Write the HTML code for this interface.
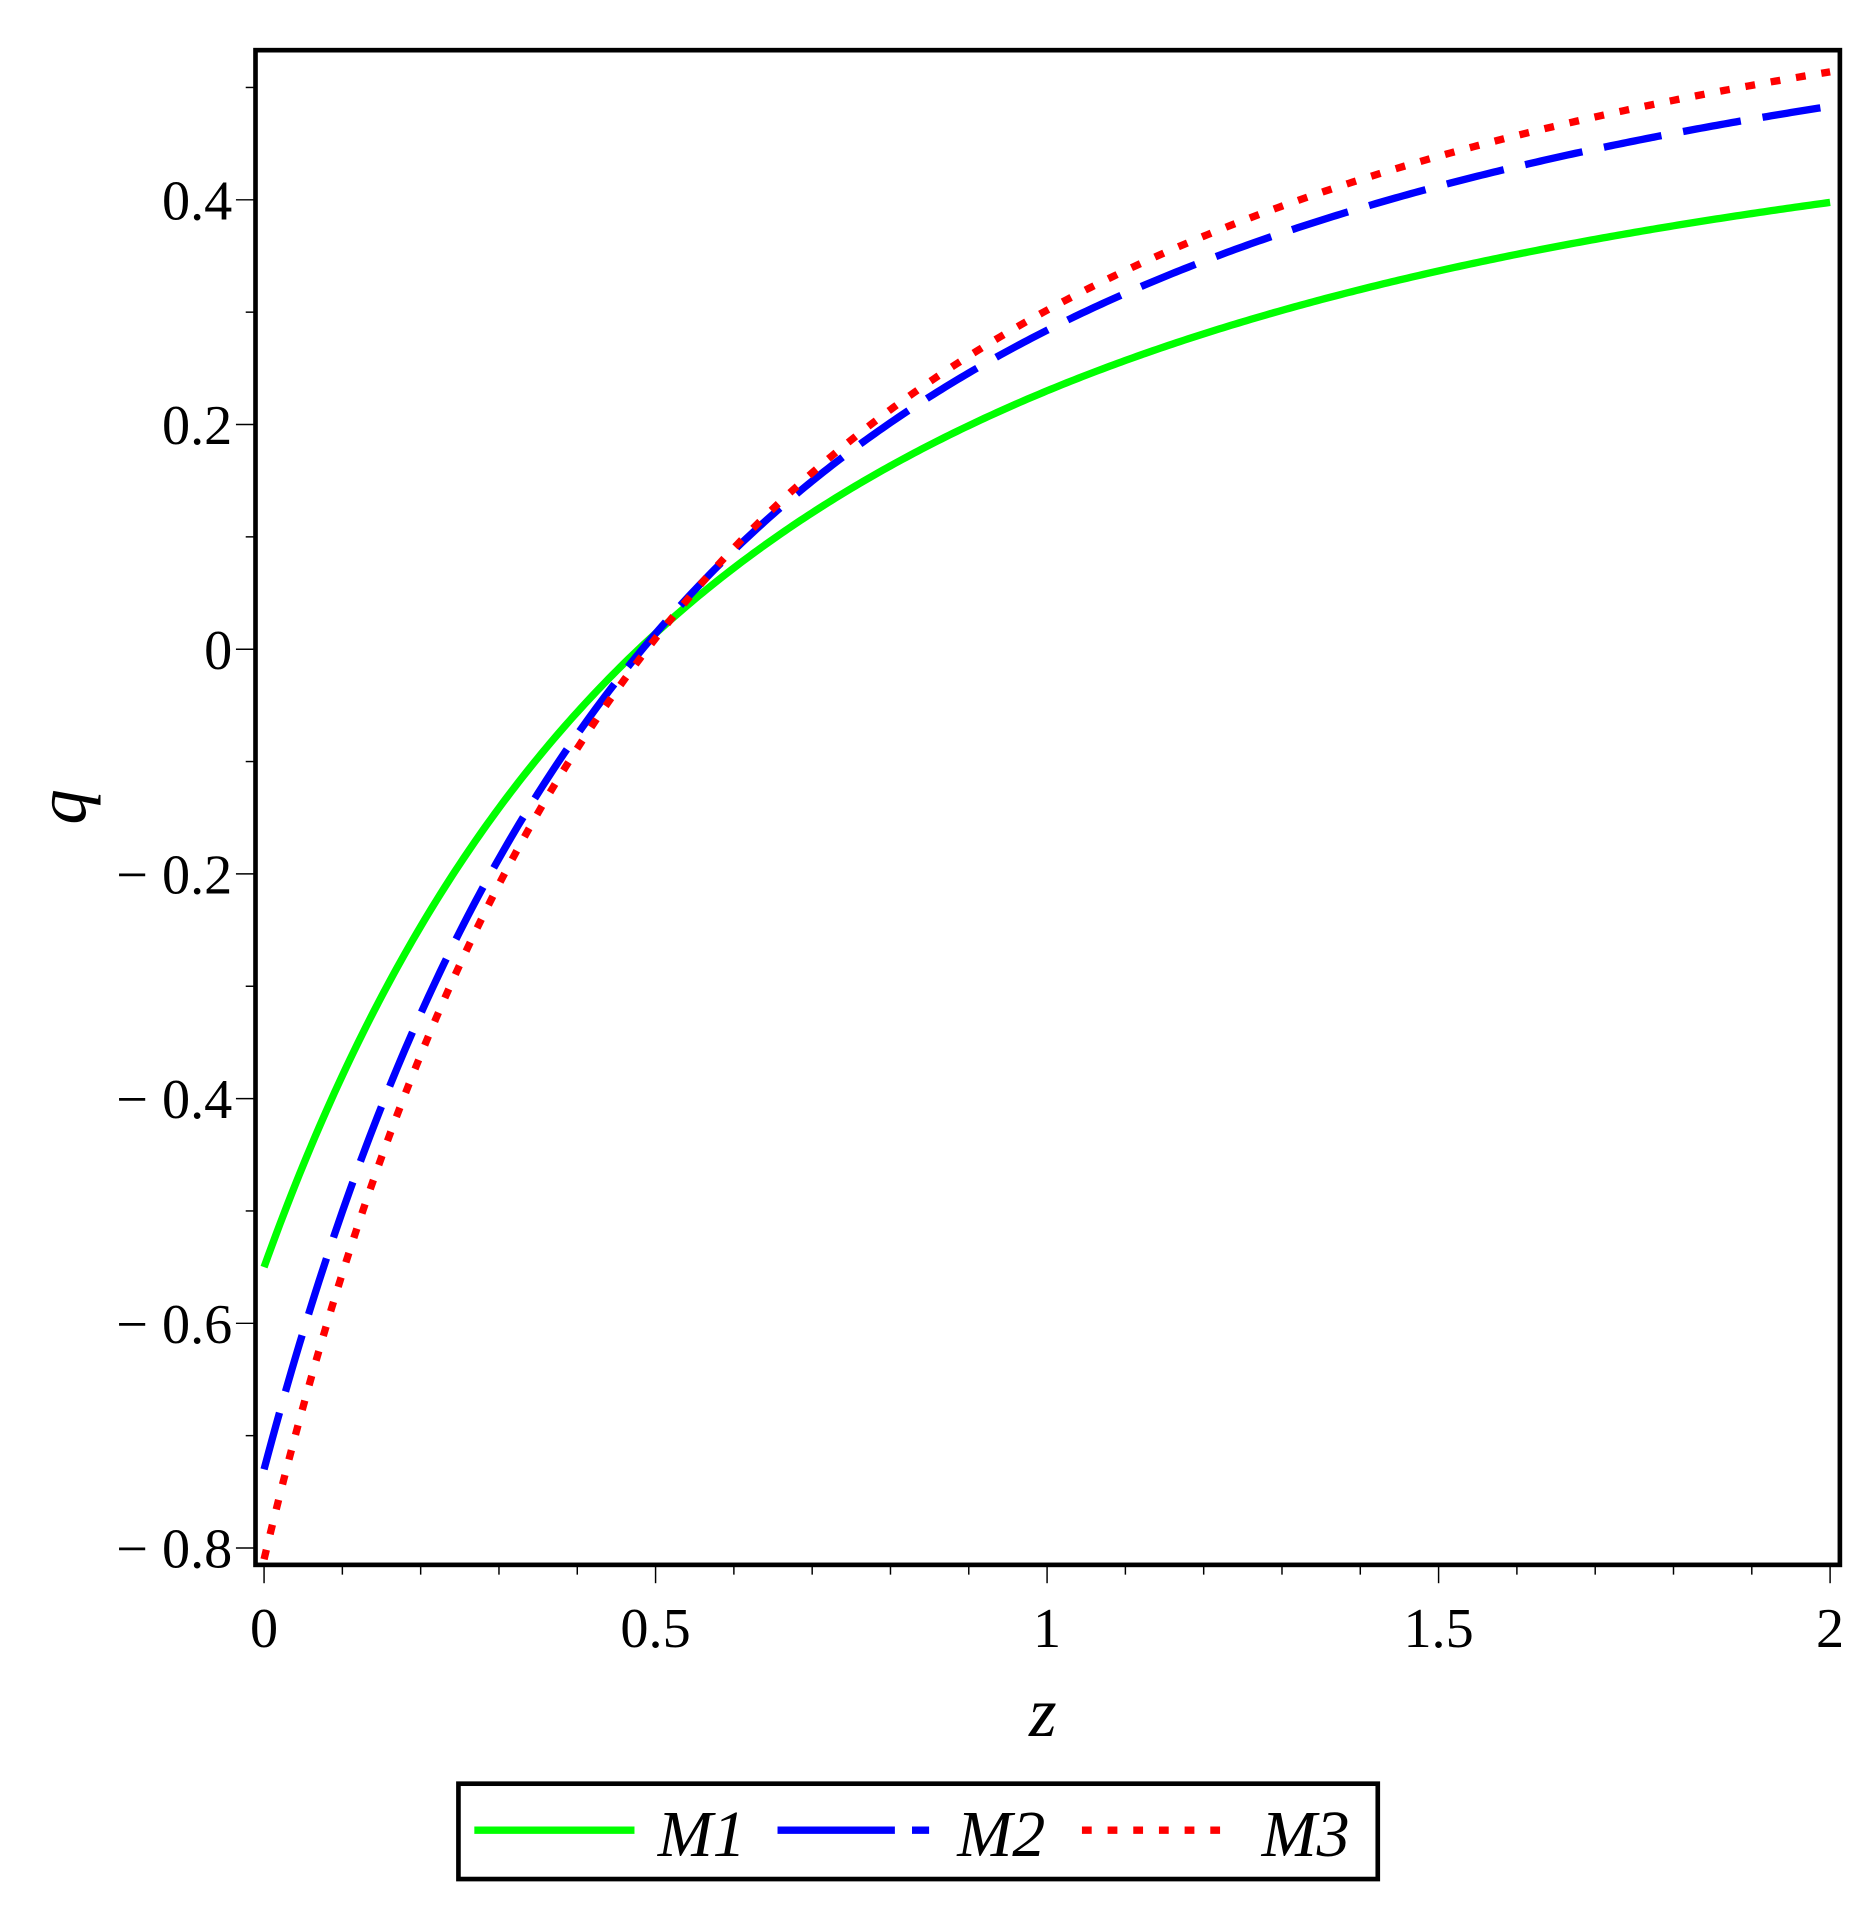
<!DOCTYPE html>
<html><head><meta charset="utf-8"><style>
html,body{margin:0;padding:0;background:#fff;}
svg{display:block;}
text{font-family:"Liberation Serif",serif;fill:#000;}
</style></head><body>
<svg id="s" width="1868" height="1906" viewBox="0 0 1528 1559" xmlns="http://www.w3.org/2000/svg">
<rect x="0" y="0" width="1528" height="1559" fill="#fff"/>
<g id="ticks" stroke="#000" stroke-width="1.2"></g>
<g id="labels" font-size="46"></g>
<path id="m1" fill="none" stroke="#00ff00" stroke-width="6"/>
<path id="m2" fill="none" stroke="#0000ff" stroke-width="6" stroke-dasharray="48 18"/>
<path id="m3" fill="none" stroke="#ff0000" stroke-width="6" stroke-dasharray="8 13"/>
<rect x="209" y="41" width="1296" height="1239" fill="none" stroke="#000" stroke-width="3.8"/>
<text x="853" y="1420" font-size="58" font-style="italic" text-anchor="middle">z</text>
<text transform="translate(70,660) rotate(-90)" font-size="58" font-style="italic" text-anchor="middle">q</text>
<rect x="375" y="1459" width="752" height="78" fill="none" stroke="#000" stroke-width="3.8"/>
<line x1="388" y1="1497" x2="519" y2="1497" stroke="#00ff00" stroke-width="6"/>
<text x="538" y="1518" font-size="54" font-style="italic">M1</text>
<line x1="636" y1="1497" x2="732" y2="1497" stroke="#0000ff" stroke-width="6"/>
<line x1="746" y1="1497" x2="760" y2="1497" stroke="#0000ff" stroke-width="6"/>
<text x="783" y="1518" font-size="54" font-style="italic">M2</text>
<line x1="885" y1="1497" x2="1000" y2="1497" stroke="#ff0000" stroke-width="6" stroke-dasharray="8 13"/>
<text x="1032" y="1518" font-size="54" font-style="italic">M3</text>
</svg>
<script>
var X=function(z){return 216+z*640.5;};
var Y=function(v){return 531-v*919;};
function path(a,b,p){var d="";for(var i=0;i<=400;i++){var z=i*2/400;var q=a-b/Math.pow(1+z,p);d+=(i?"L":"M")+X(z).toFixed(2)+" "+Y(q).toFixed(2);}return d;}
document.getElementById("m1").setAttribute("d",path(0.56,1.11,1.75));
document.getElementById("m2").setAttribute("d",path(0.655,1.385,1.9));
document.getElementById("m3").setAttribute("d",path(0.69,1.50,1.95));
var ns="http://www.w3.org/2000/svg",t=document.getElementById("ticks"),l=document.getElementById("labels");
function ln(x1,y1,x2,y2){var e=document.createElementNS(ns,"line");e.setAttribute("x1",x1);e.setAttribute("y1",y1);e.setAttribute("x2",x2);e.setAttribute("y2",y2);t.appendChild(e);}
function tx(x,y,s,a){var e=document.createElementNS(ns,"text");e.setAttribute("x",x);e.setAttribute("y",y);e.setAttribute("text-anchor",a);e.textContent=s;l.appendChild(e);}
for(var k=-8;k<=5;k++){var y=Y(k/10);if(k%2==0){ln(193,y,209,y);var s=(k<0?"\u2212 ":"")+(k==0?"0":(Math.abs(k)/10).toFixed(1));tx(190,y+16,s,"end");}else ln(201,y,209,y);}
for(var k=0;k<=20;k++){var x=X(k/10);if(k%5==0){ln(x,1280,x,1295);var s=(k==0?"0":(k%10==0?String(k/10):(k/10).toFixed(1)));tx(x,1347,s,"middle");}else ln(x,1280,x,1288);}
</script>
</body></html>
